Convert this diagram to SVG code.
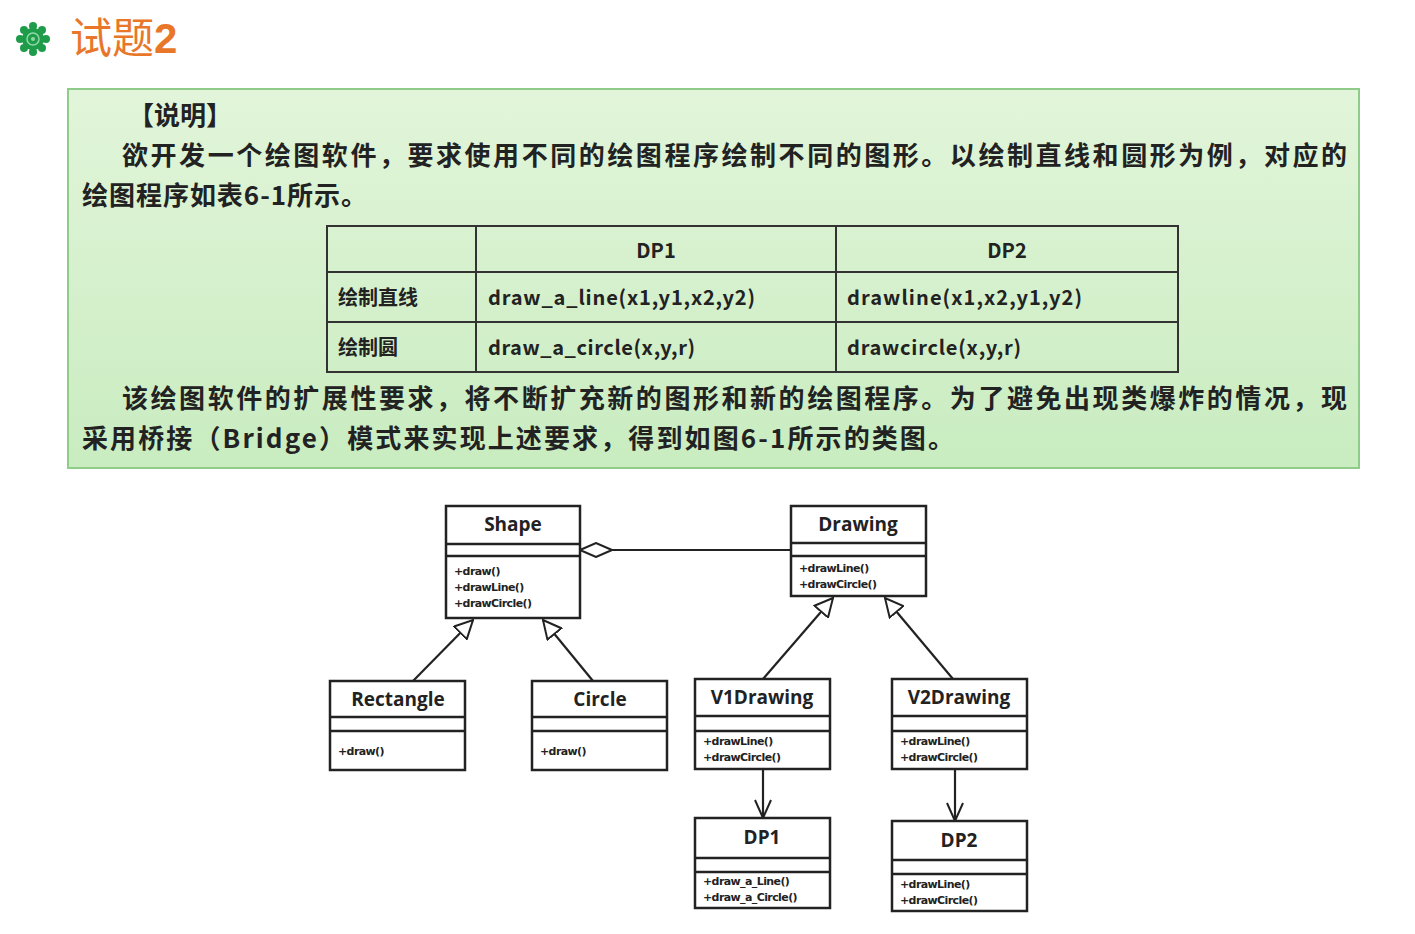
<svg xmlns="http://www.w3.org/2000/svg" width="1415" height="934" viewBox="0 0 1415 934">
<defs>
<linearGradient id="g" x1="0" y1="0" x2="0" y2="1"><stop offset="0" stop-color="#e2f5da"/><stop offset="1" stop-color="#c9ecc0"/></linearGradient>
<marker id="tri" viewBox="0 0 20 20" refX="19" refY="10" markerWidth="20" markerHeight="20" markerUnits="userSpaceOnUse" orient="auto"><path d="M1,1 L19,10 L1,19 Z" fill="#fff" stroke="#222" stroke-width="2"/></marker>
<marker id="open" viewBox="0 0 20 20" refX="19" refY="10" markerWidth="20" markerHeight="20" markerUnits="userSpaceOnUse" orient="auto"><path d="M1,2 L19,10 L1,18" fill="none" stroke="#222" stroke-width="2"/></marker>
<marker id="dia" viewBox="0 0 34 16" refX="1" refY="8" markerWidth="34" markerHeight="16" markerUnits="userSpaceOnUse" orient="auto"><path d="M1,8 L17,1 L33,8 L17,15 Z" fill="#fff" stroke="#222" stroke-width="2"/></marker>
</defs>
<style>
.t{font-family:"Noto Sans CJK SC","Noto Sans",sans-serif;font-weight:bold;fill:#222}
.p{font-size:26px}
.c{font-size:20px}
.b{fill:#fff;stroke:#222;stroke-width:2.5}
.l{stroke:#222;stroke-width:2.5}
.n{font-family:"Open Sans","DejaVu Sans",sans-serif;font-weight:bold;font-size:19px;fill:#222;text-anchor:middle}
.o{font-family:"DejaVu Sans",sans-serif;font-weight:bold;font-size:11px;fill:#222;letter-spacing:-0.6px}
.tl{stroke:#333;stroke-width:2;fill:none}
.cn{stroke:#222;stroke-width:2.2;fill:none}
</style>
<rect width="1415" height="934" fill="#fff"/>
<g id="title">
<g fill="#1f9c4a">
<circle cx="33" cy="39" r="11"/>
<circle cx="33" cy="26" r="4"/><circle cx="33" cy="52" r="4"/><circle cx="20" cy="39" r="4"/><circle cx="46" cy="39" r="4"/>
<circle cx="24" cy="30" r="4"/><circle cx="42" cy="30" r="4"/><circle cx="24" cy="48" r="4"/><circle cx="42" cy="48" r="4"/>
</g>
<circle cx="33" cy="39" r="6" fill="none" stroke="#8fd9a8" stroke-width="1.5"/>
<circle cx="33" cy="39" r="2" fill="#8fd9a8"/>
<text x="70" y="53" class="t" style="font-size:42px;fill:#e8772a;font-weight:normal">试题<tspan style="font-family:'Liberation Sans',sans-serif;font-weight:bold">2</tspan></text>
</g>
<g id="desc">
<rect x="68" y="89" width="1291" height="379" fill="url(#g)" stroke="#8fcc8a" stroke-width="2"/>
<text x="128" y="125" class="t p">【说明】</text>
<text x="122" y="165" class="t p" textLength="1225" lengthAdjust="spacing">欲开发一个绘图软件，要求使用不同的绘图程序绘制不同的图形。以绘制直线和圆形为例，对应的</text>
<text x="82" y="205" class="t p" textLength="285" lengthAdjust="spacing">绘图程序如表6-1所示。</text>
<text x="122" y="408" class="t p" textLength="1225" lengthAdjust="spacing">该绘图软件的扩展性要求，将不断扩充新的图形和新的绘图程序。为了避免出现类爆炸的情况，现</text>
<text x="82" y="448" class="t p" textLength="872" lengthAdjust="spacing">采用桥接（Bridge）模式来实现上述要求，得到如图6-1所示的类图。</text>
</g>
<g id="table">
<rect x="327" y="226" width="851" height="146" class="tl"/>
<line x1="327" y1="272" x2="1178" y2="272" class="tl"/>
<line x1="327" y1="322" x2="1178" y2="322" class="tl"/>
<line x1="476" y1="226" x2="476" y2="372" class="tl"/>
<line x1="836" y1="226" x2="836" y2="372" class="tl"/>
<text x="656" y="258" class="t c" text-anchor="middle">DP1</text>
<text x="1007" y="258" class="t c" text-anchor="middle">DP2</text>
<text x="338" y="305" class="t c">绘制直线</text>
<text x="488" y="305" class="t c" textLength="267" lengthAdjust="spacing">draw_a_line(x1,y1,x2,y2)</text>
<text x="847" y="305" class="t c" textLength="235" lengthAdjust="spacing">drawline(x1,x2,y1,y2)</text>
<text x="338" y="355" class="t c">绘制圆</text>
<text x="488" y="355" class="t c" textLength="207" lengthAdjust="spacing">draw_a_circle(x,y,r)</text>
<text x="847" y="355" class="t c" textLength="174" lengthAdjust="spacing">drawcircle(x,y,r)</text>
</g>
<g id="connectors">
<line x1="580" y1="550" x2="791" y2="550" class="cn" marker-start="url(#dia)"/>
<line x1="413" y1="681" x2="473" y2="620" class="cn" marker-end="url(#tri)"/>
<line x1="593" y1="681" x2="543" y2="620" class="cn" marker-end="url(#tri)"/>
<line x1="763" y1="679" x2="833" y2="598" class="cn" marker-end="url(#tri)"/>
<line x1="953" y1="679" x2="885" y2="598" class="cn" marker-end="url(#tri)"/>
<line x1="763" y1="769" x2="763" y2="818" class="cn" marker-end="url(#open)"/>
<line x1="955" y1="769" x2="955" y2="821" class="cn" marker-end="url(#open)"/>
</g>
<g id="Shape">
<rect x="446" y="506" width="134" height="112" class="b"/>
<line x1="446" y1="544" x2="580" y2="544" class="l"/><line x1="446" y1="556" x2="580" y2="556" class="l"/>
<text x="513" y="531" class="n">Shape</text>
<text x="454" y="575" class="o">+draw()</text><text x="454" y="591" class="o">+drawLine()</text><text x="454" y="607" class="o">+drawCircle()</text>
</g>
<g id="Drawing">
<rect x="791" y="506" width="135" height="90" class="b"/>
<line x1="791" y1="543" x2="926" y2="543" class="l"/><line x1="791" y1="556" x2="926" y2="556" class="l"/>
<text x="858" y="531" class="n">Drawing</text>
<text x="799" y="572" class="o">+drawLine()</text><text x="799" y="588" class="o">+drawCircle()</text>
</g>
<g id="Rectangle">
<rect x="330" y="681" width="135" height="89" class="b"/>
<line x1="330" y1="717" x2="465" y2="717" class="l"/><line x1="330" y1="731" x2="465" y2="731" class="l"/>
<text x="398" y="706" class="n">Rectangle</text>
<text x="338" y="755" class="o">+draw()</text>
</g>
<g id="Circle">
<rect x="532" y="681" width="135" height="89" class="b"/>
<line x1="532" y1="717" x2="667" y2="717" class="l"/><line x1="532" y1="731" x2="667" y2="731" class="l"/>
<text x="600" y="706" class="n">Circle</text>
<text x="540" y="755" class="o">+draw()</text>
</g>
<g id="V1Drawing">
<rect x="695" y="679" width="135" height="90" class="b"/>
<line x1="695" y1="716" x2="830" y2="716" class="l"/><line x1="695" y1="731" x2="830" y2="731" class="l"/>
<text x="762" y="704" class="n">V1Drawing</text>
<text x="703" y="745" class="o">+drawLine()</text><text x="703" y="761" class="o">+drawCircle()</text>
</g>
<g id="V2Drawing">
<rect x="892" y="679" width="135" height="90" class="b"/>
<line x1="892" y1="716" x2="1027" y2="716" class="l"/><line x1="892" y1="731" x2="1027" y2="731" class="l"/>
<text x="959" y="704" class="n">V2Drawing</text>
<text x="900" y="745" class="o">+drawLine()</text><text x="900" y="761" class="o">+drawCircle()</text>
</g>
<g id="DP1">
<rect x="695" y="818" width="135" height="90" class="b"/>
<line x1="695" y1="858" x2="830" y2="858" class="l"/><line x1="695" y1="872" x2="830" y2="872" class="l"/>
<text x="762" y="844" class="n">DP1</text>
<text x="703" y="885" class="o">+draw_a_Line()</text><text x="703" y="901" class="o">+draw_a_Circle()</text>
</g>
<g id="DP2">
<rect x="892" y="821" width="135" height="90" class="b"/>
<line x1="892" y1="860" x2="1027" y2="860" class="l"/><line x1="892" y1="874" x2="1027" y2="874" class="l"/>
<text x="959" y="847" class="n">DP2</text>
<text x="900" y="888" class="o">+drawLine()</text><text x="900" y="904" class="o">+drawCircle()</text>
</g>
</svg>
